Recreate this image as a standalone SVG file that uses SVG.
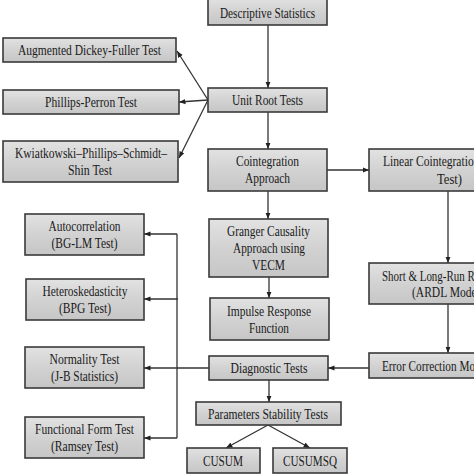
<svg xmlns="http://www.w3.org/2000/svg" width="474" height="474" viewBox="0 0 474 474">
<defs>
<linearGradient id="g" x1="0" y1="0" x2="0" y2="1">
<stop offset="0" stop-color="#e2e2e2"/>
<stop offset="0.5" stop-color="#d2d2d2"/>
<stop offset="1" stop-color="#c6c6c6"/>
</linearGradient>
<marker id="a" viewBox="0 0 10 10" refX="10" refY="5" markerWidth="5" markerHeight="5" orient="auto">
<path d="M0,1 L10,5 L0,9 z" fill="#222"/>
</marker>
</defs>
<style>
rect{fill:url(#g);stroke:#3a3a3a;stroke-width:1.6}
text{font-family:"Liberation Serif","Times New Roman",serif;font-size:15px;fill:#1a1a1a;text-anchor:middle}
.s{text-anchor:start}
.l{fill:none;stroke:#333;stroke-width:1.3}
.m{marker-end:url(#a)}
</style>
<rect x="0" y="0" width="474" height="474" style="fill:#fff;stroke:none"/>
<g id="connectors">
<line class="l m" x1="268" y1="25" x2="268" y2="88"/>
<line class="l m" x1="208" y1="100" x2="177" y2="51"/>
<line class="l m" x1="208" y1="100" x2="179" y2="102"/>
<line class="l m" x1="208" y1="100" x2="179" y2="158"/>
<line class="l m" x1="268" y1="112" x2="268" y2="149"/>
<line class="l m" x1="327" y1="170" x2="369" y2="170"/>
<line class="l m" x1="268" y1="191" x2="268" y2="219"/>
<line class="l m" x1="269" y1="277" x2="269" y2="298"/>
<line class="l m" x1="448" y1="191" x2="448" y2="263"/>
<line class="l m" x1="448" y1="304" x2="448" y2="353"/>
<line class="l m" x1="369" y1="368" x2="328" y2="368"/>
<line class="l m" x1="209" y1="368" x2="144" y2="368"/>
<line class="l" x1="177" y1="234" x2="177" y2="438"/>
<line class="l m" x1="177" y1="234" x2="144" y2="234"/>
<line class="l m" x1="178" y1="299" x2="144" y2="299"/>
<line class="l m" x1="177" y1="438" x2="144" y2="438"/>
<line class="l m" x1="269" y1="380" x2="269" y2="402"/>
<line class="l m" x1="268" y1="425" x2="226" y2="448"/>
<line class="l m" x1="268" y1="425" x2="310" y2="448"/>
</g>
<g id="desc"><rect x="208" y="-2" width="119" height="27"/><text x="267.5" y="18" textLength="95" lengthAdjust="spacingAndGlyphs">Descriptive Statistics</text></g>
<g id="adf"><rect x="3" y="38" width="173" height="24"/><text x="89.5" y="55" textLength="143" lengthAdjust="spacingAndGlyphs">Augmented Dickey-Fuller Test</text></g>
<g id="pp"><rect x="3" y="90" width="176" height="24"/><text x="91" y="107" textLength="92" lengthAdjust="spacingAndGlyphs">Phillips-Perron Test</text></g>
<g id="kpss"><rect x="3" y="141" width="175" height="41"/><text x="91" y="158" textLength="152" lengthAdjust="spacingAndGlyphs">Kwiatkowski–Phillips–Schmidt–</text><text x="90" y="175" textLength="44" lengthAdjust="spacingAndGlyphs">Shin Test</text></g>
<g id="unit"><rect x="208" y="88" width="119" height="24"/><text x="267.5" y="105" textLength="71" lengthAdjust="spacingAndGlyphs">Unit Root Tests</text></g>
<g id="coint"><rect x="208" y="149" width="119" height="42"/><text x="267.5" y="166" textLength="63" lengthAdjust="spacingAndGlyphs">Cointegration</text><text x="267.5" y="183" textLength="45" lengthAdjust="spacingAndGlyphs">Approach</text></g>
<g id="linear"><rect x="369" y="149" width="170" height="42"/><text class="s" x="383" y="166" transform="translate(383 0) scale(0.77 1) translate(-383 0)">Linear Cointegration (Bounds</text><text class="s" x="437" y="184" textLength="25" lengthAdjust="spacingAndGlyphs">Test)</text></g>
<g id="granger"><rect x="209" y="219" width="119" height="58"/><text x="268.5" y="236" textLength="83" lengthAdjust="spacingAndGlyphs">Granger Causality</text><text x="269" y="253" textLength="72" lengthAdjust="spacingAndGlyphs">Approach using</text><text x="268.5" y="270" textLength="33" lengthAdjust="spacingAndGlyphs">VECM</text></g>
<g id="impulse"><rect x="210" y="298" width="119" height="42"/><text x="269" y="316" textLength="84" lengthAdjust="spacingAndGlyphs">Impulse Response</text><text x="269" y="333" textLength="40" lengthAdjust="spacingAndGlyphs">Function</text></g>
<g id="diag"><rect x="209" y="356" width="119" height="24"/><text x="269" y="373" textLength="77" lengthAdjust="spacingAndGlyphs">Diagnostic Tests</text></g>
<g id="param"><rect x="196" y="402" width="145" height="23"/><text x="268" y="419" textLength="120" lengthAdjust="spacingAndGlyphs">Parameters Stability Tests</text></g>
<g id="cusum"><rect x="187" y="448" width="73" height="25"/><text x="223" y="466" textLength="40" lengthAdjust="spacingAndGlyphs">CUSUM</text></g>
<g id="cusumsq"><rect x="273" y="448" width="74" height="25"/><text x="310" y="466" textLength="54" lengthAdjust="spacingAndGlyphs">CUSUMSQ</text></g>
<g id="shortlong"><rect x="369" y="263" width="170" height="41"/><text class="s" x="382" y="281" transform="translate(382 0) scale(0.73 1) translate(-382 0)">Short &amp; Long-Run Relationship</text><text class="s" x="412" y="297" transform="translate(412 0) scale(0.77 1) translate(-412 0)">(ARDL Model)</text></g>
<g id="ecm"><rect x="369" y="353" width="170" height="25"/><text class="s" x="382" y="371" transform="translate(382 0) scale(0.75 1) translate(-382 0)">Error Correction Model</text></g>
<g id="auto"><rect x="25" y="214" width="119" height="41"/><text x="84.5" y="231" textLength="72" lengthAdjust="spacingAndGlyphs">Autocorrelation</text><text x="84.5" y="248" textLength="66" lengthAdjust="spacingAndGlyphs">(BG-LM Test)</text></g>
<g id="hetero"><rect x="26" y="279" width="118" height="41"/><text x="85" y="296" textLength="85" lengthAdjust="spacingAndGlyphs">Heteroskedasticity</text><text x="85" y="313" textLength="52" lengthAdjust="spacingAndGlyphs">(BPG Test)</text></g>
<g id="normal"><rect x="25" y="347" width="119" height="41"/><text x="84.5" y="364" textLength="70" lengthAdjust="spacingAndGlyphs">Normality Test</text><text x="84.5" y="381" textLength="67" lengthAdjust="spacingAndGlyphs">(J-B Statistics)</text></g>
<g id="func"><rect x="25" y="417" width="119" height="41"/><text x="84.5" y="434" textLength="99" lengthAdjust="spacingAndGlyphs">Functional Form Test</text><text x="84.5" y="451" textLength="67" lengthAdjust="spacingAndGlyphs">(Ramsey Test)</text></g>
</svg>
